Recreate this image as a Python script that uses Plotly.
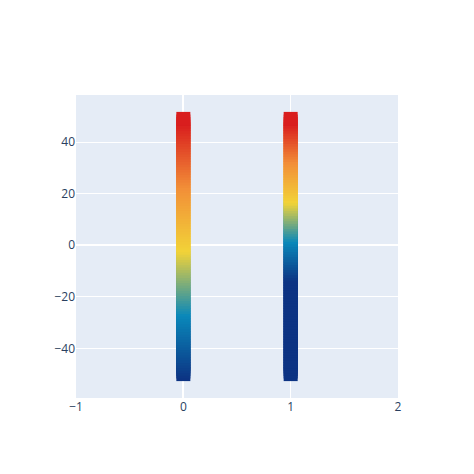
import plotly.graph_objects as go

# column positions and the y values of the markers in each column
x_positions = [0, 1]
y_values = list(range(-50, 50))

# colour value of each marker (same as its y value)
color_values = list(range(-50, 50))

# colour limits for each column
color_min = [-50, -12]
color_max = [49, 49]

fig = go.Figure()

for i, xp in enumerate(x_positions):
    fig.add_trace(go.Scatter(
        x=[xp] * len(y_values),
        y=y_values,
        mode='markers',
        showlegend=False,
        marker=dict(
            symbol='square',
            size=14,
            color=color_values,
            colorscale='Portland',
            cmin=color_min[i],
            cmax=color_max[i],
        ),
    ))

fig.update_layout(
    width=458,
    height=458,
    margin=dict(l=68, r=68, t=87, b=68),
    xaxis=dict(range=[-1, 2], dtick=1),
)

fig.write_html("out.html")
